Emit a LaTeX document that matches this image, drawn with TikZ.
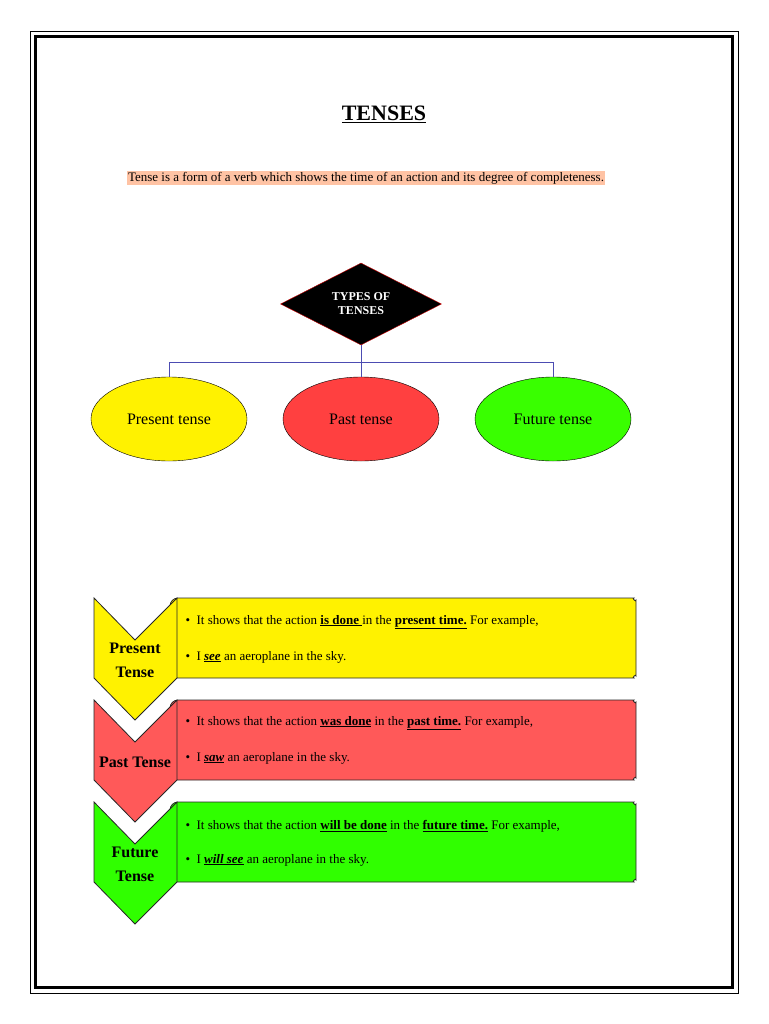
\documentclass[tikz,border=0pt]{standalone}
\usepackage{fontspec}
\setmainfont{Liberation Serif}
\usetikzlibrary{shapes.geometric}
\begin{document}
\begin{tikzpicture}[x=1pt,y=-1pt,
  ell/.style={ellipse,draw=black,minimum width=156pt,minimum height=84pt,font=\fontsize{16}{18}\selectfont},
  chev/.style={draw=black!70!gray,line width=0.8pt},
  infobox/.style={draw=black!70!gray,line width=0.8pt,rounded corners=8pt},
  bul/.style={anchor=west,font=\fontsize{13}{15}\selectfont},
  lab/.style={font=\bfseries\fontsize{16}{20}\selectfont,align=center},
  conn/.style={draw=blue!40!gray,line width=0.8pt}]
\useasboundingbox (0,0) rectangle (768,1024);
\fill[white] (0,0) rectangle (768,1024);
\draw[line width=0.8pt] (30,31) rectangle (738,993);
\draw[line width=3.5pt] (35.5,36.5) rectangle (732.5,987.5);
\node (title) at (384,114) {\bfseries\fontsize{22}{24}\selectfont\underline{TENSES}};
\node[fill=orange!35!pink!70,inner sep=1pt] (def) at (366,178) {\fontsize{13}{15}\selectfont Tense is a form of a verb which shows the time of an action and its degree of completeness.};
\node[diamond,draw=red!80!black,fill=black,text=white,minimum width=161pt,minimum height=82pt,aspect=2,inner sep=0pt,align=center,font=\bfseries\fontsize{12}{14}\selectfont] (types) at (361,304) {TYPES OF\\TENSES};
\node[ell,fill=yellow] (pres) at (169,419) {Present tense};
\node[ell,fill=red!75!white] (past) at (361,419) {Past tense};
\node[ell,fill=green!70!lime] (fut) at (553,419) {Future tense};
\coordinate (j) at (361,362);
\draw[conn] (types.south) -- (j);
\draw[conn] (pres.north) -- (169,362) -- (553,362) -- (fut.north);
\draw[conn] (j) -- (past.north);
% rows
\foreach \y/\col/\nm in {598/yellow/a,700/red!65!white/b,802/green!75!lime/c}{
  \draw[infobox,fill=\col] (170,\y) -- (626,\y) to[out=0,in=90] (636,\y+10) -- (636,\y+70) to[out=-90,in=0] (626,\y+80) -- (170,\y+80) -- cycle;
  \draw[chev,fill=\col] (94,\y) -- (135,\y+42) -- (177,\y) -- (177,\y+80) -- (135,\y+122) -- (94,\y+80) -- cycle;
}
\node[lab] (l1) at (135,660) {Present\\[4pt]Tense};
\node[lab] (l2) at (135,762) {Past Tense};
\node[lab] (l3) at (135,864) {Future\\[4pt]Tense};
\node[bul] (a1) at (182,622) {\textbullet\ \ It shows that the action \textbf{\underline{is done }}in the \textbf{\underline{present time.}} For example,};
\node[bul] (a2) at (182,657) {\textbullet\ \ I \textbf{\textit{\underline{see}}} an aeroplane in the sky.};
\node[bul] (b1) at (182,723) {\textbullet\ \ It shows that the action \textbf{\underline{was done}} in the \textbf{\underline{past time.}} For example,};
\node[bul] (b2) at (182,758) {\textbullet\ \ I \textbf{\textit{\underline{saw}}} an aeroplane in the sky.};
\node[bul] (c1) at (182,826) {\textbullet\ \ It shows that the action \textbf{\underline{will be done}} in the \textbf{\underline{future time.}} For example,};
\node[bul] (c2) at (182,860) {\textbullet\ \ I \textbf{\textit{\underline{will see}}} an aeroplane in the sky.};
\end{tikzpicture}
\end{document}
